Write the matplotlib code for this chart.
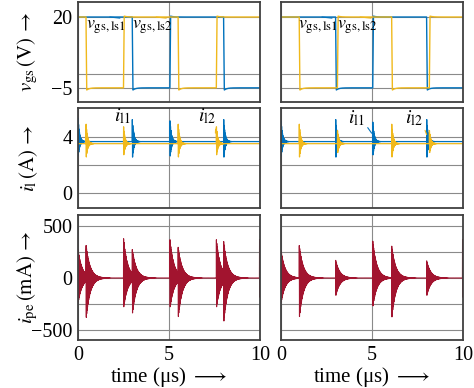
import numpy as np
import matplotlib
matplotlib.use("Agg")
import matplotlib.pyplot as plt

plt.rcParams['font.family'] = 'serif'
plt.rcParams['font.serif'] = ['Liberation Serif', 'DejaVu Serif']
plt.rcParams['mathtext.fontset'] = 'stix'
plt.rcParams['font.size'] = 11

BLUE = '#0072BD'
YELLOW = '#F0B91C'
RED = '#A2142F'

# switching instants (us), both gates start high (20 V)
ls1_toggles_left = [2.98, 5.05, 8.0]
ls2_toggles_left = [0.44, 2.5, 5.5, 7.6]
ls1_toggles_right = [3.0, 5.04, 8.0]
ls2_toggles_right = [1.0, 3.1, 6.08, 8.15]
v_high = 20.0
v_low = -5.0

# leg currents: ringing bursts (time, peak up, peak down) in A
il1_left = [(0.0, 1.8, 1.3), (2.98, 1.7, 1.4), (5.05, 1.6, 1.3), (8.0, 1.7, 1.4)]
il2_left = [(0.44, 1.5, 1.2), (2.5, 1.3, 1.0), (5.5, 1.5, 1.2), (7.6, 1.3, 1.0)]
il1_right = [(0.0, 1.6, 1.3), (3.0, 1.7, 1.4), (5.04, 1.5, 1.2), (8.0, 1.7, 1.4)]
il2_right = [(1.0, 1.5, 1.2), (3.1, 1.0, 0.8), (6.08, 1.5, 1.2), (8.15, 1.0, 0.8)]
il1_dc = 3.7
il2_dc = 3.55

# protective earth current bursts (time, peak +, peak -) in mA
ipe_left = [(0.0, 280, 250), (0.44, 310, 400), (2.5, 390, 300), (2.98, 310, 400),
            (5.05, 380, 300), (5.5, 300, 400), (7.6, 380, 300), (8.0, 300, 400),
            (9.97, 380, 200)]
ipe_right = [(0.0, 270, 250), (1.0, 320, 400), (3.0, 175, 180), (5.04, 365, 290),
             (6.08, 315, 405), (8.0, 170, 180), (9.97, 380, 200)]

t = np.linspace(0, 10, 40001)


def gate(toggles):
    v = np.full_like(t, v_high)
    level = v_high
    for tk in toggles:
        new = v_low if level == v_high else v_high
        ramp = np.clip((t - tk) / 0.04, 0, 1)
        v += (new - level) * ramp
        after = t >= tk
        bump = -1.0 if new == v_low else 0.4
        v[after] += bump * np.exp(-(t[after] - tk) / 0.15)
        level = new
    return v


def bursts(events, tau, freq):
    y = np.zeros_like(t)
    for tk, up, dn in events:
        m = t >= tk
        dt = t[m] - tk
        s = np.sin(2 * np.pi * freq * dt) * np.exp(-dt / tau)
        y[m] += np.where(s > 0, up * s, dn * s)
    return y


fig = plt.figure(figsize=(4.74, 3.88), dpi=100)
W, H = 474.0, 388.0
lefts = [78, 281]
rows = [(2, 102), (108, 208), (215, 340)]
axs = [[fig.add_axes([l / W, 1 - b / H, 182 / W, (b - tp) / H]) for l in lefts] for tp, b in rows]

cols = [
    (ls1_toggles_left, ls2_toggles_left, il1_left, il2_left, ipe_left),
    (ls1_toggles_right, ls2_toggles_right, il1_right, il2_right, ipe_right),
]

for c, (g1, g2, e1, e2, ep) in enumerate(cols):
    a0, a1, a2 = axs[0][c], axs[1][c], axs[2][c]
    a0.plot(t, gate(g1), color=BLUE, lw=1.0)
    a0.plot(t, gate(g2), color=YELLOW, lw=1.0)
    a1.plot(t, il1_dc + bursts(e1, 0.08, 40), color=BLUE, lw=0.9)
    a1.plot(t, il2_dc + bursts(e2, 0.08, 40), color=YELLOW, lw=0.9)
    a2.plot(t, bursts(ep, 0.22, 45), color=RED, lw=0.8)

    a0.set_ylim(-10, 25.3)
    a0.set_yticks([-5, 0, 20])
    a0.set_yticklabels(['\u22125', '', '20'])
    a1.set_ylim(-1.05, 6.1)
    a1.set_yticks([0, 2, 4])
    a1.set_yticklabels(['0', '', '4'])
    a2.set_ylim(-600, 610)
    a2.set_yticks([-500, -250, 0, 250, 500])
    a2.set_yticklabels(['\u2212500', '', '0', '', '500'])

    for r in range(3):
        ax = axs[r][c]
        ax.set_xlim(0, 10)
        ax.set_xticks([0, 5, 10])
        ax.grid(True, color='#8a8a8a', lw=0.8)
        ax.set_axisbelow(True)
        ax.tick_params(length=0, pad=4, labelsize=14.5)
        for sp in ax.spines.values():
            sp.set_color('#404040')
            sp.set_linewidth(1.3)
        if r < 2:
            ax.set_xticklabels([])
        if c == 1:
            ax.set_yticklabels([])
    a2.set_xlabel('time (\u03bcs) $\\longrightarrow$', fontsize=15, labelpad=0)

axs[0][0].set_ylabel(r'$v_{\mathrm{gs}}\,(\mathrm{V})\,\rightarrow$', fontsize=15)
axs[1][0].set_ylabel(r'$i_{\mathrm{l}}\,(\mathrm{A})\,\rightarrow$', fontsize=15)
axs[2][0].set_ylabel(r'$i_{\mathrm{pe}}\,(\mathrm{mA})\,\rightarrow$', fontsize=15)
for r in range(3):
    axs[r][0].yaxis.set_label_coords(-0.21, 0.5)

# labels with leader lines
ann = dict(fontsize=13, ha='left', va='center')
axs[0][0].annotate(r'$v_{\mathrm{gs,ls1}}$', xy=(1.75, 20), xytext=(0.45, 16.5),
                   arrowprops=dict(arrowstyle='-', color=BLUE, lw=0.8, shrinkA=0, shrinkB=0,
                                   relpos=(0.85, 1.0)), **ann)
axs[0][0].annotate(r'$v_{\mathrm{gs,ls2}}$', xy=(4.3, 20), xytext=(2.95, 16.5),
                   arrowprops=dict(arrowstyle='-', color=YELLOW, lw=0.8, shrinkA=0, shrinkB=0,
                                   relpos=(0.85, 1.0)), **ann)
axs[0][1].annotate(r'$v_{\mathrm{gs,ls1}}$', xy=(2.25, 20), xytext=(0.95, 16.5),
                   arrowprops=dict(arrowstyle='-', color=BLUE, lw=0.8, shrinkA=0, shrinkB=0,
                                   relpos=(0.85, 1.0)), **ann)
axs[0][1].annotate(r'$v_{\mathrm{gs,ls2}}$', xy=(4.35, 20), xytext=(3.05, 16.5),
                   arrowprops=dict(arrowstyle='-', color=YELLOW, lw=0.8, shrinkA=0, shrinkB=0,
                                   relpos=(0.85, 1.0)), **ann)

ann2 = dict(fontsize=14, ha='left', va='center')
axs[1][0].annotate(r'$i_{\mathrm{l1}}$', xy=(3.1, 4.2), xytext=(2.0, 5.5),
                   arrowprops=dict(arrowstyle='-', color=BLUE, lw=0.8, shrinkA=0, shrinkB=0,
                                   relpos=(1.0, 0.2)), **ann2)
axs[1][0].annotate(r'$i_{\mathrm{l2}}$', xy=(7.55, 4.3), xytext=(6.6, 5.5),
                   arrowprops=dict(arrowstyle='-', color=YELLOW, lw=0.8, shrinkA=0, shrinkB=0,
                                   relpos=(1.0, 0.2)), **ann2)
axs[1][1].annotate(r'$i_{\mathrm{l1}}$', xy=(4.98, 4.3), xytext=(3.7, 5.4),
                   arrowprops=dict(arrowstyle='-', color=BLUE, lw=0.8, shrinkA=0, shrinkB=0,
                                   relpos=(1.0, 0.2)), **ann2)
axs[1][1].annotate(r'$i_{\mathrm{l2}}$', xy=(8.0, 4.2), xytext=(6.8, 5.4),
                   arrowprops=dict(arrowstyle='-', color=YELLOW, lw=0.8, shrinkA=0, shrinkB=0,
                                   relpos=(1.0, 0.2)), **ann2)

fig.savefig('out.png', dpi=100)
